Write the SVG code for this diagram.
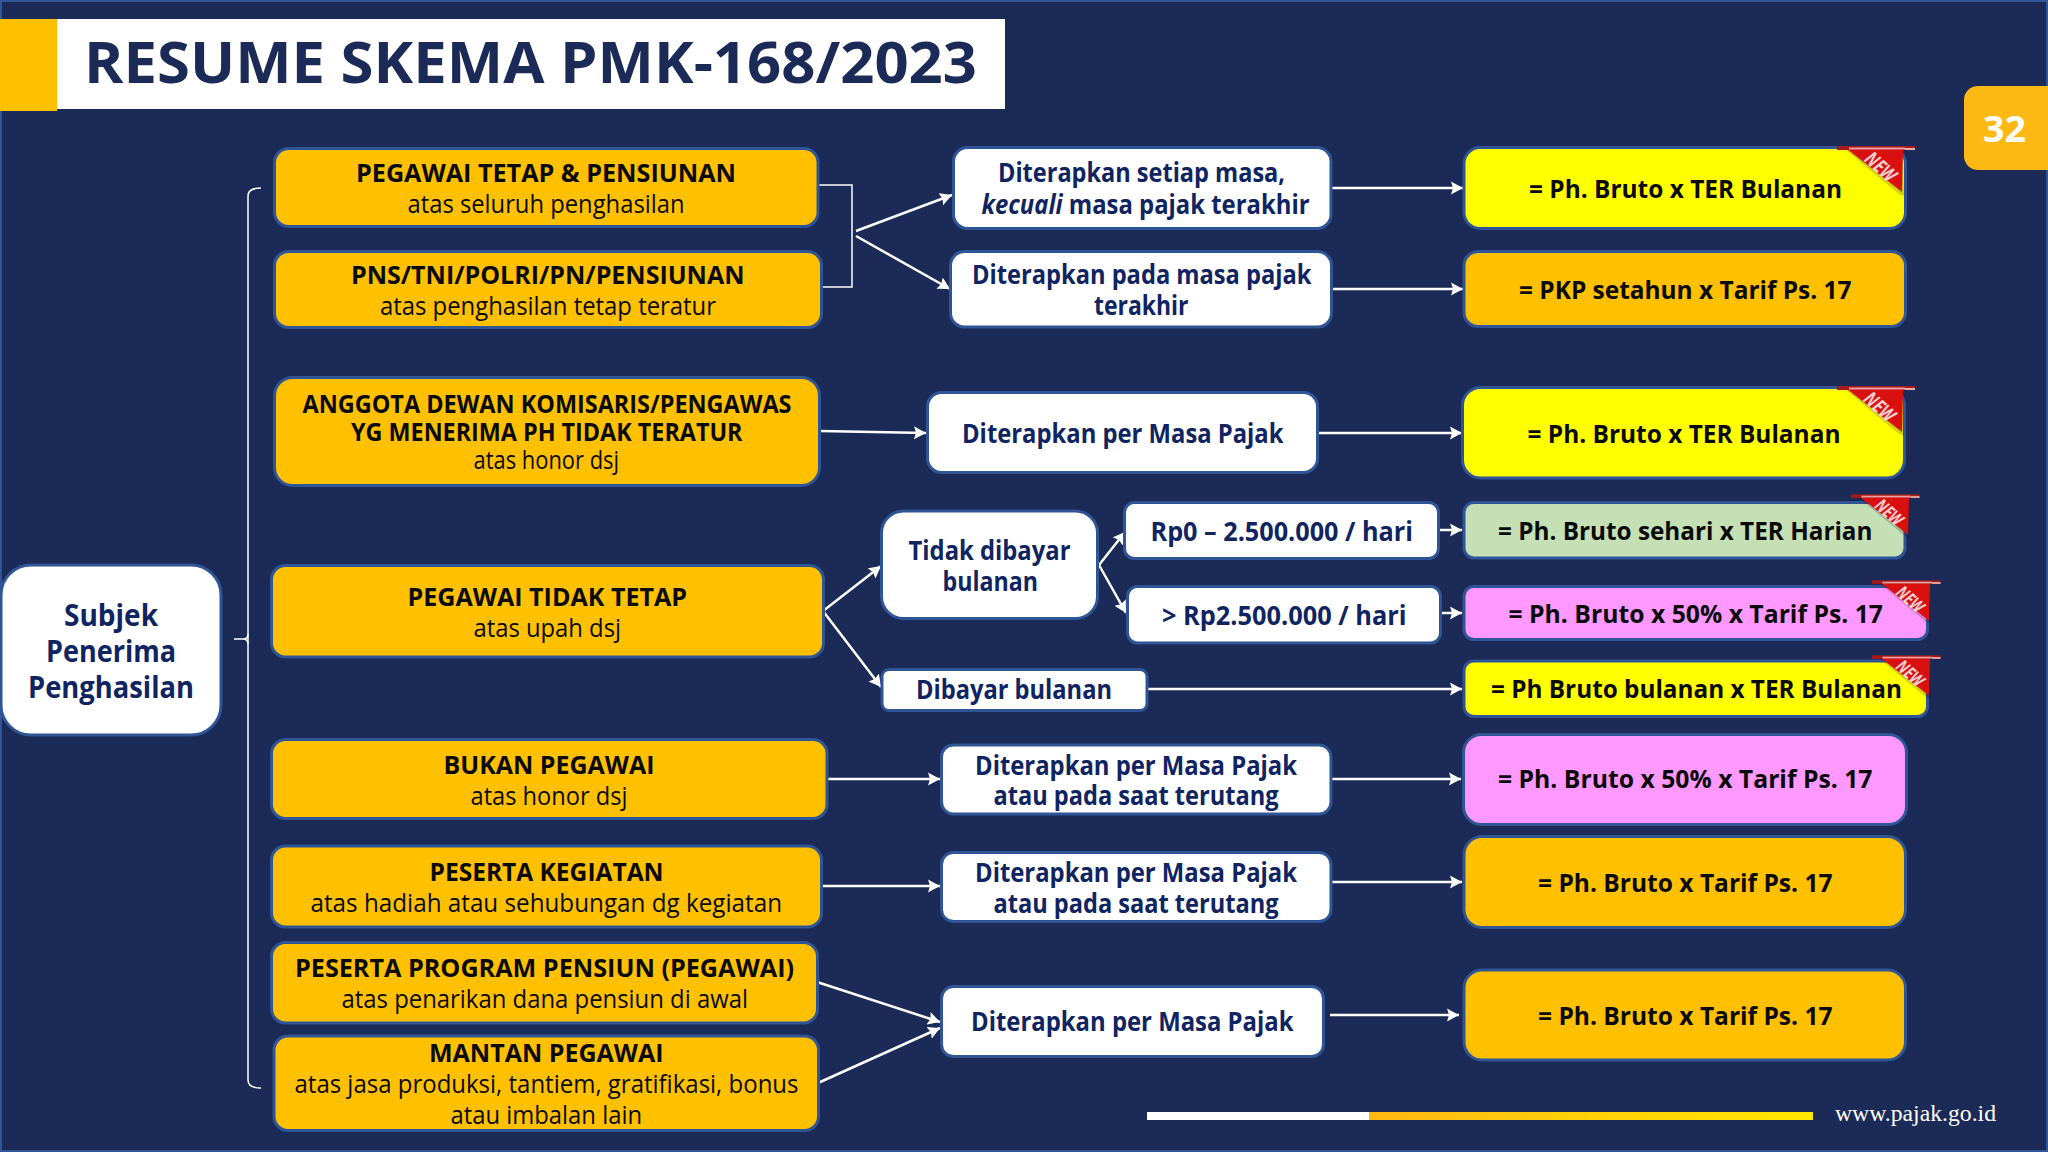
<svg xmlns="http://www.w3.org/2000/svg" xmlns:xlink="http://www.w3.org/1999/xlink" width="2048" height="1152" viewBox="0 0 2048 1152">
<style>
text{font-family:"Open Sans","Noto Sans","Liberation Sans",sans-serif}
.b{stroke:#2F5597;stroke-width:3}
.o{fill:#FFC000}.w{fill:#FFFFFF}.y{fill:#FFFF00}.p{fill:#FF99FF}.g{fill:#C5E0B4}
.h{font-size:25px;font-weight:700;fill:#0A0A0A}
.s{font-size:25px;font-weight:400;fill:#0A0A0A}
.n{font-size:26px;font-weight:700;fill:#0F2460}
.r{font-size:25px;font-weight:700;fill:#0A0A0A}
.new{font-size:20px;font-weight:700;font-style:italic;fill:#F8CFCF;text-anchor:middle}
.ns{font-size:18px}
.c{fill:none;stroke:#FFFFFF;stroke-width:2.5}
.t{fill:none;stroke:#FFFFFF;stroke-width:1.5}
</style>
<defs>
<marker id="arrow" markerUnits="userSpaceOnUse" markerWidth="14" markerHeight="14" refX="12" refY="7" orient="auto"><path d="M0 0.5L12 7L0 13.5L2 7Z" fill="#FFFFFF"/></marker>
<linearGradient id="barGrad" x1="0" x2="1" y1="0" y2="0"><stop offset="0" stop-color="#FDB913"/><stop offset="1" stop-color="#FFE800"/></linearGradient>
<g id="ribbon">
<polygon points="-57,1 -1,1 1,47 -4,45" fill="#000000" opacity="0.18"/>
<polygon points="-56,0 0,0 -1,43" fill="#D9100F"/>
<rect x="-66" y="-3" width="78" height="4" fill="#A81818"/>
<rect x="-54" y="-1.500" width="56" height="2" fill="#F0A0A0"/>
<rect x="2" y="-1" width="10" height="2" fill="#E8B0B0"/>
</g>
</defs>
<rect id="background" x="1" y="1" width="2046" height="1150" fill="#1B2A56" stroke="#2F5597" stroke-width="2"/>

<g id="title">
<rect x="57" y="19" width="948" height="90" fill="#FFFFFF"/>
<rect x="0" y="19" width="57" height="92" fill="#FFC000"/>
<text x="84" y="83" font-size="58" font-weight="700" fill="#1B2A56" textLength="893" lengthAdjust="spacingAndGlyphs">RESUME SKEMA PMK-168/2023</text>
</g>
<g id="page-number">
<rect x="1964" y="86" width="100" height="84" rx="14" fill="#FDB913"/>
<text x="1983" y="142" font-size="36" font-weight="700" fill="#FFFFFF" textLength="43" lengthAdjust="spacingAndGlyphs">32</text>
</g>

<g id="connectors">
<path class="t" d="M248 1080 L248 196 Q248 188 261 188"/>
<path class="t" d="M248 1080 Q248 1088 261 1088"/>
<path class="t" d="M234 639 L243 639 Q248 639 248 634 M243 639 Q248 639 248 644"/>
<path class="t" d="M818 185 L852 185 L852 287 L820 287"/>
<line class="c" x1="856" y1="231" x2="952" y2="195" marker-end="url(#arrow)"/>
<line class="c" x1="856" y1="236" x2="950" y2="289" marker-end="url(#arrow)"/>
<line class="c" x1="1331" y1="188" x2="1463" y2="188" marker-end="url(#arrow)"/>
<line class="c" x1="1331" y1="289" x2="1463" y2="289" marker-end="url(#arrow)"/>
<line class="c" x1="820" y1="431" x2="926" y2="433" marker-end="url(#arrow)"/>
<line class="c" x1="1318" y1="433" x2="1462" y2="433" marker-end="url(#arrow)"/>
<line class="c" x1="823" y1="611" x2="881" y2="566" marker-end="url(#arrow)"/>
<line class="c" x1="823" y1="611" x2="881" y2="687" marker-end="url(#arrow)"/>
<line class="c" x1="1099" y1="565" x2="1125" y2="532" marker-end="url(#arrow)"/>
<line class="c" x1="1099" y1="565" x2="1126" y2="613" marker-end="url(#arrow)"/>
<line class="c" x1="1439" y1="530" x2="1462" y2="530" marker-end="url(#arrow)"/>
<line class="c" x1="1441" y1="613" x2="1462" y2="613" marker-end="url(#arrow)"/>
<line class="c" x1="1146" y1="689" x2="1462" y2="689" marker-end="url(#arrow)"/>
<line class="c" x1="826" y1="779" x2="940" y2="779" marker-end="url(#arrow)"/>
<line class="c" x1="1332" y1="779" x2="1461" y2="779" marker-end="url(#arrow)"/>
<line class="c" x1="821" y1="886" x2="940" y2="886" marker-end="url(#arrow)"/>
<line class="c" x1="1332" y1="882" x2="1462" y2="882" marker-end="url(#arrow)"/>
<line class="c" x1="817" y1="982" x2="940" y2="1022" marker-end="url(#arrow)"/>
<line class="c" x1="818" y1="1083" x2="940" y2="1028" marker-end="url(#arrow)"/>
<line class="c" x1="1330" y1="1015" x2="1459" y2="1015" marker-end="url(#arrow)"/>
</g>

<g id="subjek">
<rect class="b w" x="1" y="565" width="220" height="170" rx="30"/>
<text class="n" style="font-size:30px" x="64" y="626" textLength="94" lengthAdjust="spacingAndGlyphs">Subjek</text>
<text class="n" style="font-size:30px" x="46" y="662" textLength="130" lengthAdjust="spacingAndGlyphs">Penerima</text>
<text class="n" style="font-size:30px" x="28" y="698" textLength="166" lengthAdjust="spacingAndGlyphs">Penghasilan</text>
</g>

<g id="a1"><rect class="b o" x="274.500" y="148.500" width="543.500" height="78" rx="14"/>
<text class="h" x="356" y="182" textLength="380" lengthAdjust="spacingAndGlyphs">PEGAWAI TETAP &amp; PENSIUNAN</text>
<text class="s" x="407.500" y="213" textLength="277" lengthAdjust="spacingAndGlyphs">atas seluruh penghasilan</text></g>
<g id="a2"><rect class="b o" x="274.500" y="251.500" width="547" height="76" rx="14"/>
<text class="h" x="351" y="284" textLength="393.500" lengthAdjust="spacingAndGlyphs">PNS/TNI/POLRI/PN/PENSIUNAN</text>
<text class="s" x="380" y="315" textLength="336" lengthAdjust="spacingAndGlyphs">atas penghasilan tetap teratur</text></g>
<g id="a3"><rect class="b o" x="274.500" y="377.500" width="545" height="108" rx="18"/>
<text class="h" x="302.500" y="412.500" textLength="489" lengthAdjust="spacingAndGlyphs">ANGGOTA DEWAN KOMISARIS/PENGAWAS</text>
<text class="h" x="351" y="441" textLength="391.500" lengthAdjust="spacingAndGlyphs">YG MENERIMA PH TIDAK TERATUR</text>
<text class="s" x="473.500" y="469" textLength="145.500" lengthAdjust="spacingAndGlyphs">atas honor dsj</text></g>
<g id="a4"><rect class="b o" x="271.500" y="565.500" width="552" height="91.500" rx="14"/>
<text class="h" x="407.500" y="605.500" textLength="279.500" lengthAdjust="spacingAndGlyphs">PEGAWAI TIDAK TETAP</text>
<text class="s" x="473.500" y="637" textLength="147.500" lengthAdjust="spacingAndGlyphs">atas upah dsj</text></g>
<g id="a5"><rect class="b o" x="271.500" y="739.500" width="555.500" height="79" rx="14"/>
<text class="h" x="443.500" y="773.500" textLength="211" lengthAdjust="spacingAndGlyphs">BUKAN PEGAWAI</text>
<text class="s" x="470.500" y="804.500" textLength="157" lengthAdjust="spacingAndGlyphs">atas honor dsj</text></g>
<g id="a6"><rect class="b o" x="271.500" y="846" width="550" height="81" rx="14"/>
<text class="h" x="429.500" y="880.500" textLength="234" lengthAdjust="spacingAndGlyphs">PESERTA KEGIATAN</text>
<text class="s" x="310.500" y="911.500" textLength="471.500" lengthAdjust="spacingAndGlyphs">atas hadiah atau sehubungan dg kegiatan</text></g>
<g id="a7"><rect class="b o" x="271.500" y="942.500" width="546" height="80.500" rx="14"/>
<text class="h" x="295" y="976.500" textLength="499" lengthAdjust="spacingAndGlyphs">PESERTA PROGRAM PENSIUN (PEGAWAI)</text>
<text class="s" x="341.500" y="1007.500" textLength="406.500" lengthAdjust="spacingAndGlyphs">atas penarikan dana pensiun di awal</text></g>
<g id="a8"><rect class="b o" x="274" y="1036" width="544.500" height="94.500" rx="14"/>
<text class="h" x="429" y="1062" textLength="234.500" lengthAdjust="spacingAndGlyphs">MANTAN PEGAWAI</text>
<text class="s" x="294.500" y="1093" textLength="504" lengthAdjust="spacingAndGlyphs">atas jasa produksi, tantiem, gratifikasi, bonus</text>
<text class="s" x="450.500" y="1123.500" textLength="191.500" lengthAdjust="spacingAndGlyphs">atau imbalan lain</text></g>

<g id="d1"><rect class="b w" x="953.500" y="147.500" width="377.500" height="81" rx="14"/>
<text class="n" x="998" y="182" textLength="287" lengthAdjust="spacingAndGlyphs">Diterapkan setiap masa,</text>
<text class="n" x="981.500" y="214" textLength="328" lengthAdjust="spacingAndGlyphs"><tspan font-style="italic">kecuali</tspan> masa pajak terakhir</text></g>
<g id="d2"><rect class="b w" x="950.500" y="251.500" width="381" height="75.500" rx="14"/>
<text class="n" x="972" y="284" textLength="339.500" lengthAdjust="spacingAndGlyphs">Diterapkan pada masa pajak</text>
<text class="n" x="1094" y="315" textLength="94.500" lengthAdjust="spacingAndGlyphs">terakhir</text></g>
<g id="d3"><rect class="b w" x="927.500" y="392.500" width="390" height="80" rx="14"/>
<text class="n" x="962" y="442.500" textLength="321.500" lengthAdjust="spacingAndGlyphs">Diterapkan per Masa Pajak</text></g>
<g id="tidak"><rect class="b w" x="881.500" y="511" width="216" height="107.500" rx="22"/>
<text class="n" x="908.500" y="560" textLength="162" lengthAdjust="spacingAndGlyphs">Tidak dibayar</text>
<text class="n" x="942.500" y="591" textLength="95.500" lengthAdjust="spacingAndGlyphs">bulanan</text></g>
<g id="rp0"><rect class="b w" x="1124.500" y="502.500" width="314" height="56" rx="10"/>
<text class="n" x="1150.500" y="540.500" textLength="262.500" lengthAdjust="spacingAndGlyphs">Rp0 – 2.500.000 / hari</text></g>
<g id="rp25"><rect class="b w" x="1127.500" y="586.500" width="313" height="56.500" rx="10"/>
<text class="n" x="1162" y="624.500" textLength="244.500" lengthAdjust="spacingAndGlyphs">&gt; Rp2.500.000 / hari</text></g>
<g id="dibayar"><rect class="b w" x="882" y="669.500" width="265" height="41" rx="7"/>
<text class="n" x="916" y="699" textLength="196" lengthAdjust="spacingAndGlyphs">Dibayar bulanan</text></g>
<g id="d5"><rect class="b w" x="941.500" y="745" width="389.500" height="69" rx="12"/>
<text class="n" x="975" y="774.500" textLength="322" lengthAdjust="spacingAndGlyphs">Diterapkan per Masa Pajak</text>
<text class="n" x="993.500" y="805" textLength="285" lengthAdjust="spacingAndGlyphs">atau pada saat terutang</text></g>
<g id="d6"><rect class="b w" x="941.500" y="852.500" width="389.500" height="69" rx="12"/>
<text class="n" x="975" y="882" textLength="322" lengthAdjust="spacingAndGlyphs">Diterapkan per Masa Pajak</text>
<text class="n" x="993.500" y="912.500" textLength="285" lengthAdjust="spacingAndGlyphs">atau pada saat terutang</text></g>
<g id="d7"><rect class="b w" x="941.500" y="986.500" width="382" height="70" rx="12"/>
<text class="n" x="971" y="1031" textLength="322.500" lengthAdjust="spacingAndGlyphs">Diterapkan per Masa Pajak</text></g>

<g id="r1"><rect class="b y" x="1464" y="147.500" width="441.500" height="81" rx="16"/>
<text class="r" x="1529" y="197.500" textLength="313" lengthAdjust="spacingAndGlyphs">= Ph. Bruto x TER Bulanan</text>
<use href="#ribbon" x="1903" y="149"/>
<text class="new" textLength="34" lengthAdjust="spacingAndGlyphs" transform="translate(1876 172) rotate(42)">NEW</text></g>
<g id="r2"><rect class="b o" x="1464" y="251.500" width="441.500" height="75" rx="14"/>
<text class="r" x="1519" y="298.500" textLength="332.500" lengthAdjust="spacingAndGlyphs">= PKP setahun x Tarif Ps. 17</text></g>
<g id="r3"><rect class="b y" x="1462.500" y="387.500" width="442" height="90.500" rx="18"/>
<text class="r" x="1527.500" y="442.500" textLength="313" lengthAdjust="spacingAndGlyphs">= Ph. Bruto x TER Bulanan</text>
<use href="#ribbon" x="1903" y="389"/>
<text class="new" textLength="34" lengthAdjust="spacingAndGlyphs" transform="translate(1875 412) rotate(42)">NEW</text></g>
<g id="r4"><rect class="b g" x="1464" y="502.500" width="441" height="55.500" rx="10"/>
<text class="r" x="1498" y="539.500" textLength="374.500" lengthAdjust="spacingAndGlyphs">= Ph. Bruto sehari x TER Harian</text>
<use href="#ribbon" transform="translate(1909 497) scale(0.88)"/>
<text class="new ns" textLength="30" lengthAdjust="spacingAndGlyphs" transform="translate(1885 517) rotate(42)">NEW</text></g>
<g id="r5"><rect class="b p" x="1464" y="586.500" width="463.500" height="53" rx="10"/>
<text class="r" x="1508.500" y="622.500" textLength="374.500" lengthAdjust="spacingAndGlyphs">= Ph. Bruto x 50% x Tarif Ps. 17</text>
<use href="#ribbon" transform="translate(1930 583) scale(0.88)"/>
<text class="new ns" textLength="30" lengthAdjust="spacingAndGlyphs" transform="translate(1906 604) rotate(42)">NEW</text></g>
<g id="r6"><rect class="b y" x="1464" y="661" width="463.500" height="55.500" rx="10"/>
<text class="r" x="1491" y="697.500" textLength="411" lengthAdjust="spacingAndGlyphs">= Ph Bruto bulanan x TER Bulanan</text>
<use href="#ribbon" transform="translate(1930 658) scale(0.88)"/>
<text class="new ns" textLength="30" lengthAdjust="spacingAndGlyphs" transform="translate(1906 678) rotate(42)">NEW</text></g>
<g id="r7"><rect class="b p" x="1463.500" y="734.500" width="443" height="90" rx="18"/>
<text class="r" x="1498" y="788" textLength="374.500" lengthAdjust="spacingAndGlyphs">= Ph. Bruto x 50% x Tarif Ps. 17</text></g>
<g id="r8"><rect class="b o" x="1464" y="836.500" width="441.500" height="91" rx="18"/>
<text class="r" x="1538" y="891.500" textLength="294.500" lengthAdjust="spacingAndGlyphs">= Ph. Bruto x Tarif Ps. 17</text></g>
<g id="r9"><rect class="b o" x="1464" y="970" width="441.500" height="90" rx="18"/>
<text class="r" x="1538" y="1024.500" textLength="294.500" lengthAdjust="spacingAndGlyphs">= Ph. Bruto x Tarif Ps. 17</text></g>

<g id="footer">
<rect x="1147" y="1112" width="222" height="8" fill="#FFFFFF"/>
<rect x="1369" y="1112" width="444" height="8" fill="url(#barGrad)"/>
<text x="1835" y="1121" style="font-family:'Liberation Serif',serif;font-size:24px" fill="#FFFFFF" textLength="161" lengthAdjust="spacingAndGlyphs">www.pajak.go.id</text>
</g>
</svg>
